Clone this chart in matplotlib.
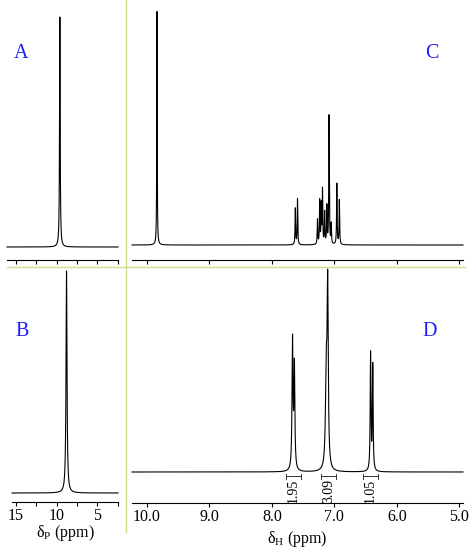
import numpy as np
import matplotlib
matplotlib.use("Agg")
import matplotlib.pyplot as plt
from matplotlib.lines import Line2D
from matplotlib.transforms import blended_transform_factory

plt.rcParams.update({
    "font.family": "Liberation Serif",
    "mathtext.fontset": "custom",
    "mathtext.rm": "Liberation Serif",
    "mathtext.it": "Liberation Serif:italic",
    "font.size": 11.5,
})

# 31P spectra (A, B): peak position (ppm), relative height, half width (ppm)
p_a_pos = [9.6]
p_a_height = [100]
p_a_width = [0.045]

p_b_pos = [8.79]
p_b_height = [100]
p_b_width = [0.07]

# 1H spectrum C
h_c_pos = [9.84, 7.625, 7.59, 7.27, 7.235, 7.21, 7.19, 7.155, 7.12, 7.085, 7.05, 6.96, 6.92]
h_c_height = [100, 15.5, 19.5, 10.5, 18.5, 16.5, 23, 13.5, 16, 55, 8.5, 26, 19]
h_c_width = [0.004] + [0.005] * 12

# 1H spectrum D
h_d_pos = [7.67, 7.64, 7.13, 7.107, 6.42, 6.385]
h_d_height = [64, 51, 45, 88, 58, 52]
h_d_width = [0.009, 0.009, 0.014, 0.011, 0.007, 0.007]

# integrals in D
int_ranges = [(7.77, 7.54), (7.22, 6.97), (6.54, 6.30)]
int_labels = ["1.95", "3.09", "1.05"]

p_ticks = [15, 12.5, 10, 7.5, 5, 2.5]
p_labels = ["15", "", "10", "", "5", ""]
h_ticks = [10, 9, 8, 7, 6, 5]
h_labels = ["10.0", "9.0", "8.0", "7.0", "6.0", "5.0"]

W, H = 477, 550
fig = plt.figure(figsize=(W / 100, H / 100), dpi=100)


def spectrum(x, pos, height, width):
    y = np.zeros_like(x)
    for c, h, w in zip(pos, height, width):
        y += h / (1 + ((x - c) / w) ** 2)
    return y


def panel(x0, x1, top, bottom, base, peak_px, xlim):
    ax = fig.add_axes([x0 / W, 1 - bottom / H, (x1 - x0) / W, (bottom - top) / H])
    scale = (base - peak_px) / 100.0
    ymin = -(bottom - base) / scale
    ax.set_ylim(ymin, ymin + (bottom - top) / scale)
    ax.set_xlim(*xlim)
    for s in ["top", "left", "right"]:
        ax.spines[s].set_visible(False)
    ax.spines["bottom"].set_linewidth(0.8)
    ax.set_yticks([])
    ax.tick_params(axis="x", direction="out", length=3, width=0.8, pad=1.5)
    ax.patch.set_visible(False)
    return ax


p_xlim_a = (16.1, 2.45)
p_xlim_b = (15.5, 2.45)
h_xlim = (10.24, 4.94)

ax_a = panel(7, 118, 0, 260, 247, 17, p_xlim_a)
ax_b = panel(12, 118, 268, 502, 493, 271, p_xlim_b)
ax_c = panel(132, 463, 0, 260, 245, 11, h_xlim)
ax_d = panel(132, 463, 268, 503, 472, 270, h_xlim)

xa = np.linspace(p_xlim_a[0], p_xlim_a[1], 6000)
ax_a.plot(xa, spectrum(xa, p_a_pos, p_a_height, p_a_width), color="black", lw=0.8, clip_on=False)
xb = np.linspace(p_xlim_b[0], p_xlim_b[1], 6000)
ax_b.plot(xb, spectrum(xb, p_b_pos, p_b_height, p_b_width), color="black", lw=0.8, clip_on=False)
xh = np.linspace(h_xlim[0], h_xlim[1], 12000)
ax_c.plot(xh, spectrum(xh, h_c_pos, h_c_height, h_c_width), color="black", lw=0.8, clip_on=False)
ax_d.plot(xh, spectrum(xh, h_d_pos, h_d_height, h_d_width), color="black", lw=0.8, clip_on=False)

for ax in (ax_a, ax_b):
    ax.set_xticks(p_ticks)
    ax.set_xticklabels(p_labels)
ax_a.set_xticklabels([])
for ax in (ax_c, ax_d):
    ax.set_xticks(h_ticks)
    ax.set_xticklabels(h_labels)
ax_c.set_xticklabels([])

ax_b.set_xlabel("δ$_{\\mathrm{P}}$ (ppm)", labelpad=-1)
ax_d.set_xlabel("δ$_{\\mathrm{H}}$ (ppm)", labelpad=3)

# integral brackets
tr = blended_transform_factory(ax_d.transData, ax_d.transAxes)
d_h = 503 - 268
yb = (503 - 476) / d_h
cap = 2.5 / d_h
for (r0, r1), lab in zip(int_ranges, int_labels):
    ax_d.plot([r0, r1], [yb, yb], color="#333333", lw=0.7, transform=tr, clip_on=False)
    for r in (r0, r1):
        ax_d.plot([r, r], [yb - cap, yb + cap], color="#333333", lw=0.7, transform=tr, clip_on=False)
    ax_d.text((r0 + r1) / 2, (503 - 479) / d_h, lab, rotation=90, ha="center", va="top",
              fontsize=10, transform=tr)

# separators
sep = "#cfe08a"
fig.add_artist(Line2D([126 / W, 126 / W], [1.0, 1 - 532 / H], color=sep, lw=1))
fig.add_artist(Line2D([7 / W, 465 / W], [1 - 267 / H, 1 - 267 / H], color=sep, lw=1))

# panel letters
for lab, px, py in [("A", 21, 53), ("B", 22, 332), ("C", 432, 53), ("D", 430, 332)]:
    fig.text(px / W, 1 - py / H, lab, color="#1a1aff", fontsize=14.5, ha="center", va="center")

fig.savefig("out.png", dpi=100)
